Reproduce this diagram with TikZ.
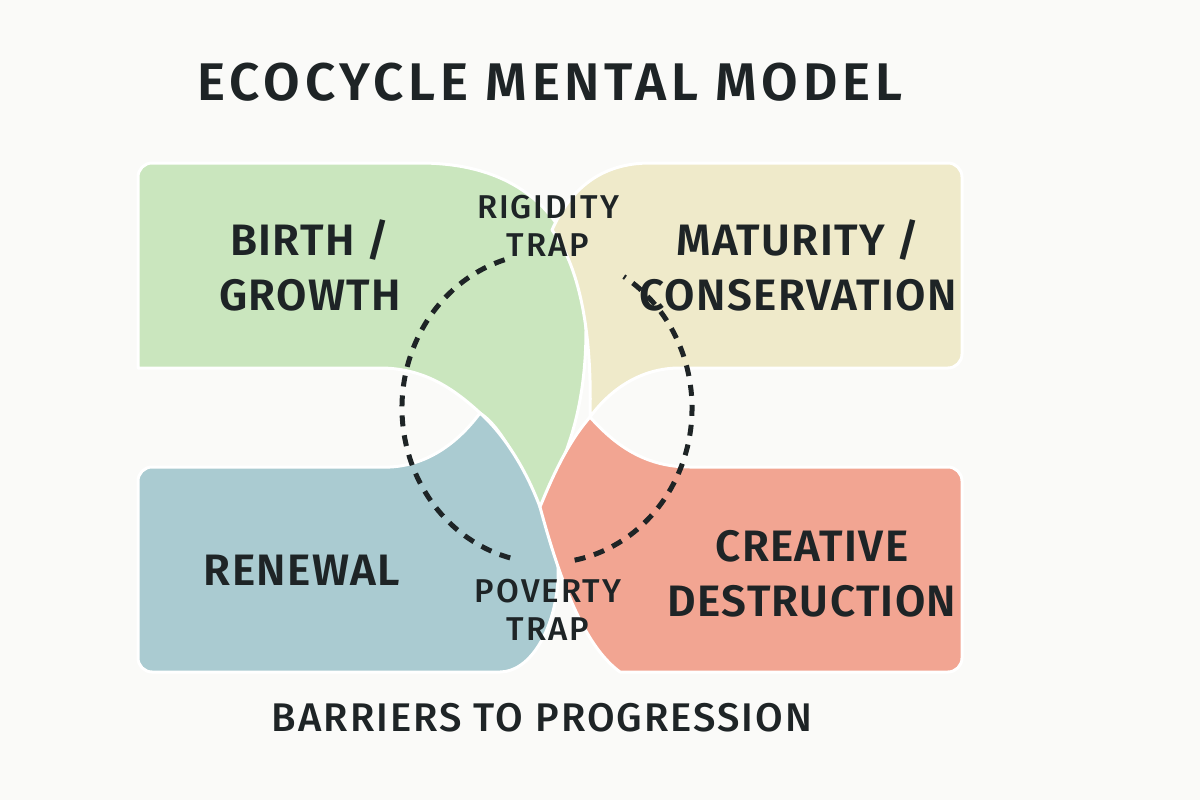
\documentclass[tikz,border=0pt]{standalone}
\usepackage{fontspec}
\setmainfont{Fira Sans}
\newfontfamily\phasefont{Fira Sans SemiBold}[LetterSpace=3]
\newfontfamily\titlefont{Fira Sans SemiBold}[LetterSpace=9]
\newfontfamily\trapfont{Fira Sans Medium}[LetterSpace=6]
\newfontfamily\barrierfont{Fira Sans Medium}[LetterSpace=5]
\usetikzlibrary{positioning}
\definecolor{bgcol}{HTML}{FAFAF8}
\definecolor{greencol}{HTML}{CAE6BE}
\definecolor{yellowcol}{HTML}{EFEACA}
\definecolor{bluecol}{HTML}{AACBD1}
\definecolor{redcol}{HTML}{F2A592}
\definecolor{inkcol}{HTML}{1E2426}
\tikzstyle{phase} = [draw=white, line width=3pt, line join=round]
\tikzstyle{phasetext} = [text=inkcol, align=center, font=\phasefont\fontsize{44}{55}\selectfont]
\tikzstyle{traptext} = [text=inkcol, align=center, font=\trapfont\fontsize{33}{38}\selectfont]
\tikzstyle{loopline} = [draw=inkcol, line width=5pt, dash pattern=on 11pt off 9pt]

\begin{document}
\begin{tikzpicture}[x=1pt, y=-1pt]
\useasboundingbox[fill=bgcol] (0,0) rectangle (1200,800);
% phase areas
\fill[greencol, phase] (138,368) [rounded corners=14] -- (138,163) -- (300,163) [sharp corners] -- (420,163)
  .. controls (540,163) and (586,240) .. (586,330) .. controls (586,420) and (560,470) .. (540,507)
  .. controls (520,470) and (505,430) .. (480,413) .. controls (450,385) and (420,368) .. (380,368) -- cycle;
\fill[yellowcol, phase] (680,368) [rounded corners=14] -- (962,368) -- (962,163) -- (800,163) [sharp corners] -- (650,163)
  .. controls (600,163) and (570,190) .. (552,230) .. controls (582,270) and (592,340) .. (590,417)
  .. controls (610,390) and (640,368) .. (680,368) -- cycle;
\fill[bluecol, phase] (390,467) [rounded corners=14] -- (138,467) -- (138,672) -- (300,672) [sharp corners] -- (500,672)
  .. controls (530,672) and (555,630) .. (558,580) .. controls (560,550) and (550,530) .. (540,507)
  .. controls (530,480) and (510,440) .. (480,413) .. controls (460,440) and (430,465) .. (390,467);
\fill[redcol, phase] (690,467) [rounded corners=14] -- (962,467) -- (962,672) -- (800,672) [sharp corners] -- (620,672)
  .. controls (590,650) and (565,600) .. (540,507) .. controls (555,470) and (570,440) .. (590,417)
  .. controls (615,445) and (645,467) .. (690,467);
% barrier loop
\coordinate (loop_center) at (547,408);
\draw[loopline] (loop_center) ++(107:145pt and 155pt) arc[start angle=107, end angle=256, x radius=145pt, y radius=155pt];
\draw[loopline] (loop_center) ++(-79:145pt and 155pt) arc[start angle=-79, end angle=58, x radius=145pt, y radius=155pt];
% labels
\node[text=inkcol, font=\titlefont\fontsize{53}{60}\selectfont] (title) at (550,82) {ECOCYCLE MENTAL MODEL};
\node[phasetext] (birth) at (310,265) {BIRTH /\\GROWTH};
\node[phasetext] (maturity) at (798,265) {MATURITY /\\CONSERVATION};
\node[phasetext] (renewal) at (302,570) {RENEWAL};
\node[phasetext] (destruction) at (812,574) {CREATIVE\\DESTRUCTION};
\node[traptext] (rigidity) at (548,226) {RIGIDITY\\TRAP};
\node[traptext] (poverty) at (548,610) {POVERTY\\TRAP};
\node[text=inkcol, font=\barrierfont\fontsize{40}{46}\selectfont] (barriers) at (542,718) {BARRIERS TO PROGRESSION};
\end{tikzpicture}
\end{document}
